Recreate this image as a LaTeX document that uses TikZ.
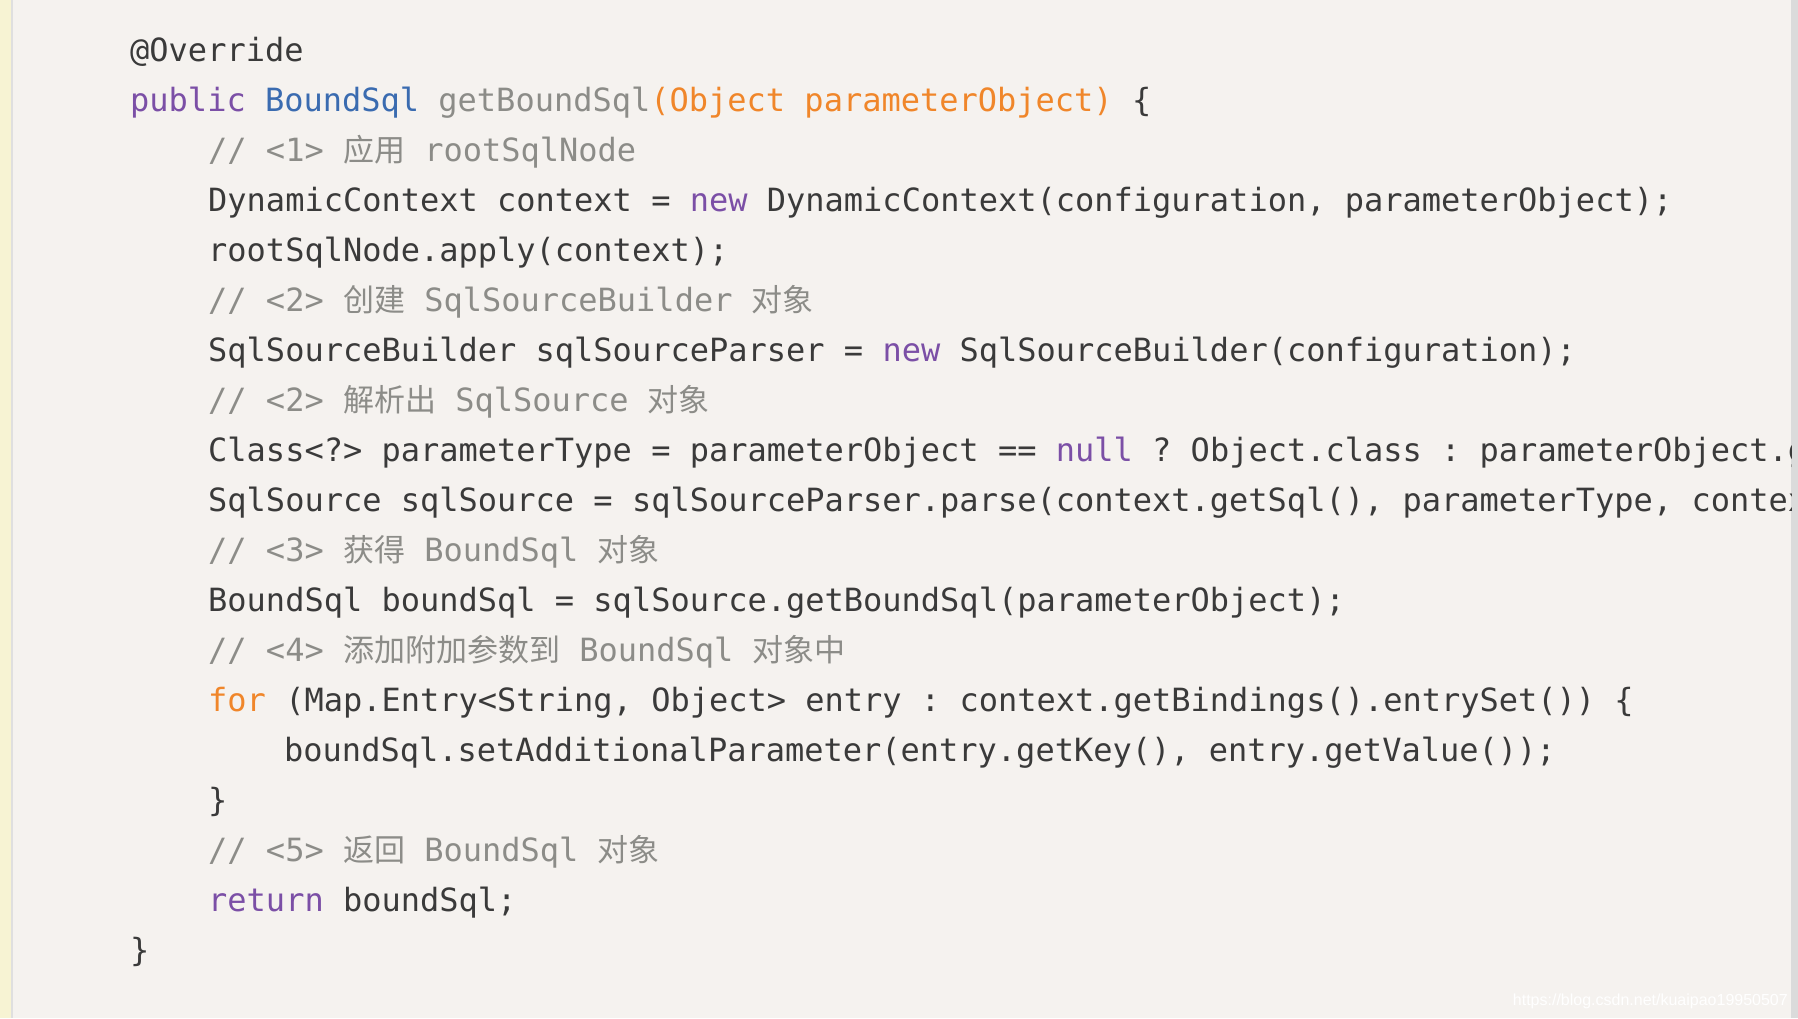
\documentclass[tikz,border=0pt]{standalone}
\usepackage{fontspec}
\setmonofont{DejaVu Sans Mono}
\newfontfamily\cjk{Noto Sans CJK SC}
\newfontfamily\wmfont{Liberation Sans}
\definecolor{bgc}{HTML}{F5F2EF}
\definecolor{txt}{HTML}{3A3A3A}
\definecolor{kw}{HTML}{7B4FA6}
\definecolor{ty}{HTML}{3A6BB0}
\definecolor{orn}{HTML}{F0862A}
\definecolor{cm}{HTML}{8C8C88}
\newcommand{\Kw}[1]{\textcolor{kw}{#1}}
\newcommand{\Ty}[1]{\textcolor{ty}{#1}}
\newcommand{\Or}[1]{\textcolor{orn}{#1}}
\newcommand{\Cm}[1]{\textcolor{cm}{#1}}
\newcommand{\Zh}[1]{{\cjk\fontsize{31}{31}\selectfont #1}}
\begin{document}
\begin{tikzpicture}[x=1pt,y=1pt,
  code/.style={anchor=base west,inner sep=0pt,font=\ttfamily\fontsize{32}{32}\selectfont,text=txt}]
\useasboundingbox (0,0) rectangle (1798,-1018);
\fill[bgc] (0,0) rectangle (1798,-1018);
\fill[yellow!12!bgc] (0,0) rectangle (11,-1018);
\fill[gray!25] (11,0) rectangle (13,-1018);
\fill[gray!28] (1791,0) rectangle (1798,-1018);
\begin{scope}
\clip (13,0) rectangle (1791,-1018);
\def\a{130}\def\b{208}\def\c{284}
\node[code] (l1) at (\a,-61.5) {@Override};
\node[code] (l2) at (\a,-111.5) {\Kw{public} \Ty{BoundSql} \Cm{getBoundSql}\Or{(Object parameterObject)} \{};
\node[code] (l3) at (\b,-161.5) {\Cm{// <1> \Zh{应用} rootSqlNode}};
\node[code] (l4) at (\b,-211.5) {DynamicContext context = \Kw{new} DynamicContext(configuration, parameterObject);};
\node[code] (l5) at (\b,-261.5) {rootSqlNode.apply(context);};
\node[code] (l6) at (\b,-311.5) {\Cm{// <2> \Zh{创建} SqlSourceBuilder \Zh{对象}}};
\node[code] (l7) at (\b,-361.5) {SqlSourceBuilder sqlSourceParser = \Kw{new} SqlSourceBuilder(configuration);};
\node[code] (l8) at (\b,-411.5) {\Cm{// <2> \Zh{解析出} SqlSource \Zh{对象}}};
\node[code] (l9) at (\b,-461.5) {Class<?> parameterType = parameterObject == \Kw{null} ? Object.class : parameterObject.getClass();};
\node[code] (l10) at (\b,-511.5) {SqlSource sqlSource = sqlSourceParser.parse(context.getSql(), parameterType, context.getBindings());};
\node[code] (l11) at (\b,-561.5) {\Cm{// <3> \Zh{获得} BoundSql \Zh{对象}}};
\node[code] (l12) at (\b,-611.5) {BoundSql boundSql = sqlSource.getBoundSql(parameterObject);};
\node[code] (l13) at (\b,-661.5) {\Cm{// <4> \Zh{添加附加参数到} BoundSql \Zh{对象中}}};
\node[code] (l14) at (\b,-711.5) {\Or{for} (Map.Entry<String, Object> entry : context.getBindings().entrySet()) \{};
\node[code] (l15) at (\c,-761.5) {boundSql.setAdditionalParameter(entry.getKey(), entry.getValue());};
\node[code] (l16) at (\b,-811.5) {\}};
\node[code] (l17) at (\b,-861.5) {\Cm{// <5> \Zh{返回} BoundSql \Zh{对象}}};
\node[code] (l18) at (\b,-911.5) {\Kw{return} boundSql;};
\node[code] (l19) at (\a,-961.5) {\}};
\end{scope}
\node[anchor=base east,inner sep=0pt,font=\wmfont\fontsize{16}{16}\selectfont,text=white] (wm) at (1788,-1005) {https://blog.csdn.net/kuaipao19950507};
\end{tikzpicture}
\end{document}
